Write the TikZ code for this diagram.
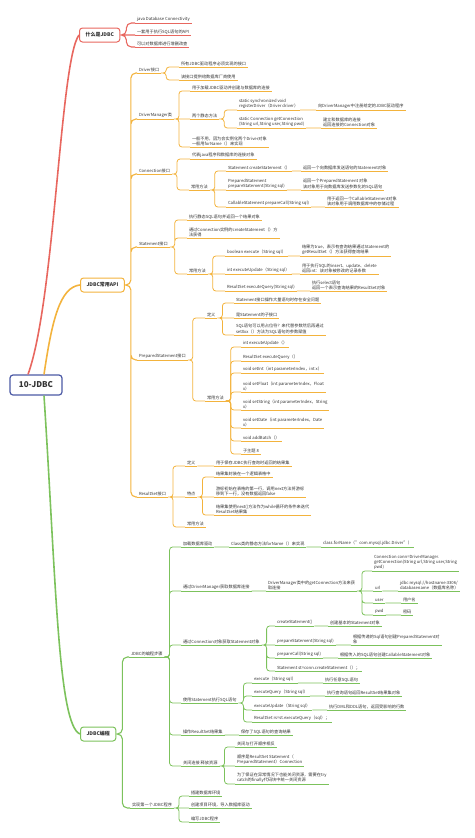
\documentclass[tikz,border=0pt]{standalone}
\usepackage{fontspec}
\setmainfont{Noto Sans CJK SC}
\usetikzlibrary{calc}

\definecolor{mmred}{HTML}{E8675F}
\definecolor{mmorange}{HTML}{F3B33D}
\definecolor{mmgreen}{HTML}{7CC25C}
\definecolor{mmblue}{HTML}{4C5AA5}
\definecolor{mmtext}{HTML}{333333}
\colorlet{br}{mmred}

\tikzset{
  rootbox/.style={draw=mmblue,line width=1.2pt,rounded corners=3pt,fill=white,minimum width=52pt,minimum height=20pt,font=\fontsize{8}{9}\selectfont\bfseries,text=mmtext},
  topic/.style={anchor=west,draw=br,line width=1pt,rounded corners=3pt,fill=white,inner xsep=6pt,minimum height=14pt,font=\fontsize{5}{6}\selectfont\bfseries,text=mmtext},
  leaf/.style={anchor=south west,inner xsep=1.8pt,inner ysep=1pt,align=left,font=\fontsize{4.2}{5.3}\selectfont,text=mmtext,
    append after command={(\tikzlastnode.south west) edge[draw=br,line width=0.7pt] (\tikzlastnode.south east)}},
  link/.style={draw=br,line width=0.8pt,rounded corners=3pt,to path={-- ++(5,0) |- (\tikztotarget)}},
  biglink/.style={draw=br,line width=1.1pt,rounded corners=5pt,to path={-- ++(6,0) |- (\tikztotarget)}},
  trunk/.style={draw=br,line width=1.6pt},
}

\begin{document}
\begin{tikzpicture}[x=1pt,y=-1pt]
\useasboundingbox (0,0) rectangle (474,838);
\node[rootbox] (root) at (36,385) {10-JDBC};

% 什么是JDBC
\colorlet{br}{mmred}
\node[topic] (wj) at (79,35) {什么是JDBC};
\node[leaf] (wj1) at (135,23) {java Database Connectivity};
\node[leaf] (wj2) at (135,35) {一套用于执行SQL语句的API};
\node[leaf] (wj3) at (135,47) {可以对数据库进行增删改查};
\draw[trunk] ([xshift=-8pt]root.north) .. controls (55,300) and (60,60) .. (wj.west);
\draw[biglink] (wj.east) to (wj1.south west) (wj.east) to (wj3.south west) (wj.east) -- (wj2.south west);

% JDBC常用API
\colorlet{br}{mmorange}
\node[topic] (api) at (80,285) {JDBC常用API};
\draw[trunk] ([xshift=8pt]root.north) .. controls (52,320) and (60,287) .. (api.west);
\node[leaf] (drv) at (137,73) {Driver接口};
\node[leaf] (drv1) at (179,67) {所有JDBC驱动程序必须实现的接口};
\node[leaf] (drv2) at (179,80) {该接口提供给数据库厂商使用};
\node[leaf] (dm) at (137,119) {DriverManager类};
\node[leaf] (dm1) at (190,91) {用于加载JDBC驱动并创建与数据库的连接};
\node[leaf] (dm2) at (190,119) {两个静态方法};
\node[leaf] (dm3) at (190,147) {一般不用，因为会实例化两个Driver对象\\一般用forName（）来实现};
\node[leaf] (dm21) at (237,110) {static synchronized void\\registerDriver（Driver driver）};
\node[leaf] (dm22) at (237,128) {static Connection getConnection\\(String url,String user,String pwd)};
\node[leaf] (dm211) at (316,110) {向DriverManager中注册给定的JDBC驱动程序};
\node[leaf] (dm221) at (321,128) {建立和数据库的连接\\返回连接的Connection对象};
\node[leaf] (cn) at (137,174) {Connection接口};
\node[leaf] (cn1) at (190,159) {代表java程序和数据库的连接对象};
\node[leaf] (cn2) at (189,190) {常用方法};
\node[leaf] (cn21) at (226,171) {Statement createStatement（）};
\node[leaf] (cn22) at (226,190) {PreparedStatement\\prepareStatement(String sql)};
\node[leaf] (cn23) at (226,207) {CallableStatement prepareCall(String sql)};
\node[leaf] (cn211) at (301,171) {返回一个向数据库发送语句的Statement对象};
\node[leaf] (cn221) at (301,190) {返回一个PreparedStatement 对象\\该对象用于向数据库发送参数化的SQL语句};
\node[leaf] (cn231) at (325,207) {用于返回一个CallableStatement对象\\该对象用于调用数据库中的存储过程};
\node[leaf] (st) at (137,247) {Statement接口};
\node[leaf] (st1) at (187,220) {执行静态SQL语句并返回一个结果对象};
\node[leaf] (st2) at (187,238) {通过Connection实例的createStatement（）方\\法获得};
\node[leaf] (st3) at (187,274) {常用方法};
\node[leaf] (st31) at (225,256) {boolean execute（String sql）};
\node[leaf] (st32) at (225,274) {int executeUpdate（String sql）};
\node[leaf] (st33) at (225,291) {ResultSet executeQuery(String sql)};
\node[leaf] (st311) at (300,256) {结果为true，表示有查询结果通过Statement的\\getResultSet（）方法获得查询结果};
\node[leaf] (st321) at (300,274) {用于执行SQL的insert、update、delete\\返回int：该对象被修改的记录条数};
\node[leaf] (st331) at (310,291) {执行select语句\\返回一个表示查询结果的ResultSet对象};
\node[leaf] (ps) at (137,360) {PreparedStatement接口};
\node[leaf] (ps1) at (205,318) {定义};
\node[leaf] (ps11) at (234,303) {Statement接口操作大量语句时存在安全问题};
\node[leaf] (ps12) at (234,318) {是Statement的子接口};
\node[leaf] (ps13) at (234,335) {SQL语句可以用占位符？来代替参数然后再通过\\setXxx（）方法为SQL语句的参数赋值};
\node[leaf] (ps2) at (205,401) {常用方法};
\node[leaf] (ps21) at (241,347) {int executeUpdate（）};
\node[leaf] (ps22) at (241,361) {ResultSet executeQuery（）};
\node[leaf] (ps23) at (241,373) {void setInt（int parameterIndex，int x）};
\node[leaf] (ps24) at (241,392) {void setFloat（int parameterIndex，Float\\x）};
\node[leaf] (ps25) at (241,410) {void setString（int parameterIndex，String\\x）};
\node[leaf] (ps26) at (241,428) {void setDate（int parameterIndex，Date\\x）};
\node[leaf] (ps27) at (241,441) {void addBatch（）};
\node[leaf] (ps28) at (241,454) {子主题 8};
\node[leaf] (rs) at (137,497) {ResultSet接口};
\node[leaf] (rs1) at (185,466) {定义};
\node[leaf] (rs11) at (214,466) {用于保存JDBC执行查询时返回的结果集};
\node[leaf] (rs2) at (185,497) {特点};
\node[leaf] (rs21) at (214,477) {结果集封装在一个逻辑表格中};
\node[leaf] (rs22) at (214,497) {游标初始在表格的第一行，调用next方法将游标\\移到下一行，没有数据返回false};
\node[leaf] (rs23) at (214,515) {结果集使用next()方法作为while循环的条件来迭代\\ResultSet结果集};
\node[leaf] (rs3) at (185,527) {常用方法};
\draw[biglink] (api.east) to (drv.south west) (api.east) to (dm.south west) (api.east) to (cn.south west)
  (api.east) to (st.south west) (api.east) to (ps.south west) (api.east) to (rs.south west);
\draw[link] (drv.south east) to (drv1.south west) (drv.south east) to (drv2.south west)
  (dm.south east) to (dm1.south west) (dm.south east) to (dm3.south west) (dm.south east) -- (dm2.south west)
  (dm2.south east) to (dm21.south west) (dm2.south east) to (dm22.south west)
  (dm21.south east) -- (dm211.south west) (dm22.south east) -- (dm221.south west);
\draw[link] (cn.south east) to (cn1.south west) (cn.south east) to (cn2.south west)
  (cn2.south east) to (cn21.south west) (cn2.south east) -- (cn22.south west) (cn2.south east) to (cn23.south west)
  (cn21.south east) -- (cn211.south west) (cn22.south east) -- (cn221.south west) (cn23.south east) -- (cn231.south west);
\draw[link] (st.south east) to (st1.south west) (st.south east) to (st2.south west) (st.south east) to (st3.south west)
  (st3.south east) to (st31.south west) (st3.south east) -- (st32.south west) (st3.south east) to (st33.south west)
  (st31.south east) -- (st311.south west) (st32.south east) -- (st321.south west) (st33.south east) -- (st331.south west);
\draw[link] (ps.south east) to (ps1.south west) (ps.south east) to (ps2.south west)
  (ps1.south east) to (ps11.south west) (ps1.south east) -- (ps12.south west) (ps1.south east) to (ps13.south west);
\foreach \m in {ps21,ps22,ps23,ps24,ps25,ps26,ps27,ps28}
  \draw[link] (ps2.south east) to (\m.south west);
\draw[link] (rs.south east) to (rs1.south west) (rs.south east) -- (rs2.south west) (rs.south east) to (rs3.south west)
  (rs1.south east) -- (rs11.south west)
  (rs2.south east) to (rs21.south west) (rs2.south east) -- (rs22.south west) (rs2.south east) to (rs23.south west);

% JDBC编程
\colorlet{br}{mmgreen}
\node[topic] (pg) at (80,734) {JDBC编程};
\draw[trunk] ([xshift=8pt]root.south) .. controls (56,580) and (58,725) .. (pg.west);
\node[leaf] (bz) at (129,657) {JDBC的编程步骤};
\node[leaf] (bz1) at (181,547) {加载数据库驱动};
\node[leaf] (bz11) at (229,547) {Class类的静态方法forName（）来实现};
\node[leaf] (bz111) at (321,547) {class.forName（"com.mysql.jdbc.Driver"）};
\node[leaf] (bz2) at (181,591) {通过DriverManager获取数据库连接};
\node[leaf] (bz21) at (266,591) {DriverManager类中的getConnection方法来获\\取连接};
\node[leaf] (bz211) at (372,571) {Connection conn=DriverManager.\\getConnection(String url,String user,String\\pwd)};
\node[leaf] (bz212) at (373,591) {url};
\node[leaf] (bz2121) at (398,591) {jdbc:mysql://hostname:3306/\\databasename（数据库名称）};
\node[leaf] (bz213) at (373,603) {user};
\node[leaf] (bz2131) at (401,603) {用户名};
\node[leaf] (bz214) at (373,615) {pwd};
\node[leaf] (bz2141) at (401,615) {密码};
\node[leaf] (bz3) at (181,645) {通过Connection对象获取Statement对象};
\node[leaf] (bz31) at (275,626) {createStatement()};
\node[leaf] (bz311) at (328,626) {创建基本的Statement对象};
\node[leaf] (bz32) at (275,645) {prepareStatement(String sql)};
\node[leaf] (bz321) at (351,645) {根据传递的Sql语句创建PreparedStatement对\\象};
\node[leaf] (bz33) at (275,658) {prepareCall(String sql)};
\node[leaf] (bz331) at (338,658) {根据传入的SQL语句创建CallableStatement对象};
\node[leaf] (bz34) at (275,671) {Statement st=conn.createStatement（）；};
\node[leaf] (bz4) at (181,703) {使用Statement执行SQL语句};
\node[leaf] (bz41) at (252,683) {execute（String sql）};
\node[leaf] (bz411) at (323,683) {执行任意SQL语句};
\node[leaf] (bz42) at (252,696) {executeQuery（String sql）};
\node[leaf] (bz421) at (325,696) {执行查询语句返回ResultSet结果集对象};
\node[leaf] (bz43) at (252,710) {executeUpdate（String sql）};
\node[leaf] (bz431) at (327,710) {执行DML和DDL语句，返回受影响的行数};
\node[leaf] (bz44) at (252,722) {ResultSet rs=st.executeQuery（sql）；};
\node[leaf] (bz5) at (181,735) {操作ResultSet结果集};
\node[leaf] (bz51) at (239,735) {保存了SQL语句的查询结果};
\node[leaf] (bz6) at (181,766) {关闭连接 释放资源};
\node[leaf] (bz61) at (235,747) {关闭与打开顺序相反};
\node[leaf] (bz62) at (235,766) {顺序是ResultSet Statement（\\PreparedStatement）Connection};
\node[leaf] (bz63) at (235,784) {为了保证在异常情况下也能关闭资源，需要在try\\catch的finally代码块中统一关闭资源};
\node[leaf] (sx) at (130,808) {实现第一个JDBC程序};
\node[leaf] (sx1) at (189,796) {搭建数据库环境};
\node[leaf] (sx2) at (189,808) {创建项目环境，导入数据库驱动};
\node[leaf] (sx3) at (189,822) {编写JDBC程序};
\draw[biglink] (pg.east) to (bz.south west) (pg.east) to (sx.south west);
\foreach \m in {bz1,bz2,bz3,bz4,bz5,bz6}
  \draw[link] (bz.south east) to (\m.south west);
\draw[link] (bz1.south east) -- (bz11.south west) (bz11.south east) -- (bz111.south west)
  (bz2.south east) -- (bz21.south west) (bz21.south east) to (bz211.south west) (bz21.south east) -- (bz212.south west)
  (bz21.south east) to (bz213.south west) (bz21.south east) to (bz214.south west)
  (bz212.south east) -- (bz2121.south west) (bz213.south east) -- (bz2131.south west) (bz214.south east) -- (bz2141.south west);
\draw[link] (bz3.south east) to (bz31.south west) (bz3.south east) -- (bz32.south west) (bz3.south east) to (bz33.south west) (bz3.south east) to (bz34.south west)
  (bz31.south east) -- (bz311.south west) (bz32.south east) -- (bz321.south west) (bz33.south east) -- (bz331.south west);
\draw[link] (bz4.south east) to (bz41.south west) (bz4.south east) to (bz42.south west) (bz4.south east) to (bz43.south west) (bz4.south east) to (bz44.south west)
  (bz41.south east) -- (bz411.south west) (bz42.south east) -- (bz421.south west) (bz43.south east) -- (bz431.south west)
  (bz5.south east) -- (bz51.south west)
  (bz6.south east) to (bz61.south west) (bz6.south east) -- (bz62.south west) (bz6.south east) to (bz63.south west);
\draw[link] (sx.south east) to (sx1.south west) (sx.south east) -- (sx2.south west) (sx.south east) to (sx3.south west);
\end{tikzpicture}
\end{document}
